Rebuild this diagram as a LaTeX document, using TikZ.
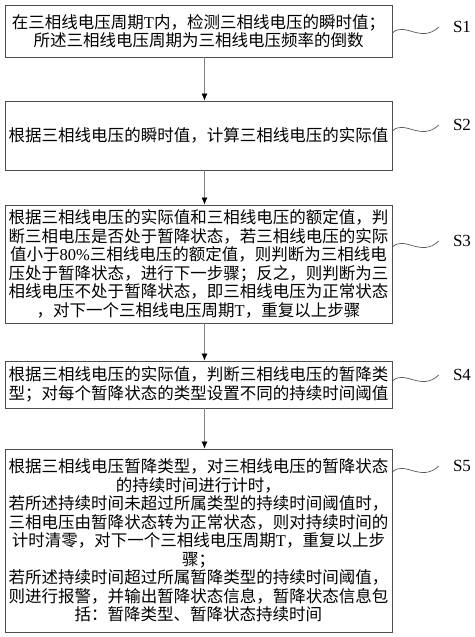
\documentclass[tikz,border=0pt]{standalone}
\usepackage{fontspec}
\setmainfont{Liberation Serif}
\newfontfamily\cjk{Noto Sans CJK SC}
\usepackage{tikz}
\usetikzlibrary{positioning,arrows.meta,calc}

\newcommand\lat[1]{{\rmfamily #1}}

\begin{document}
\begin{tikzpicture}[
    x=1pt, y=1pt,
    stepbox/.style={draw=black!70, line width=0.8pt, minimum width=387pt, inner sep=2pt,
                    align=center, font=\cjk\fontsize{16.5}{18.5}\selectfont},
    lbl/.style={inner sep=0pt, font=\fontsize{17}{19}\selectfont},
    flow/.style={draw=black!50, line width=0.7pt, -{Latex[black,length=7pt,width=6pt]}},
    wave/.style={draw=black!65, line width=0.7pt},
  ]
    \useasboundingbox (0,0) rectangle (474,637);

    \node[stepbox, minimum height=52pt] (s1) at (198.5,606)
      {在三相线电压周期\lat{T}内，检测三相线电压的瞬时值；\\所述三相线电压周期为三相线电压频率的倒数};
    \node[stepbox, minimum height=69pt] (s2) at (198.5,501.5)
      {根据三相线电压的瞬时值，计算三相线电压的实际值};
    \node[stepbox, minimum height=118pt] (s3) at (198.5,373)
      {根据三相线电压的实际值和三相线电压的额定值，判\\
       断三相电压是否处于暂降状态，若三相线电压的实际\\
       值小于\lat{80\%}三相线电压的额定值，则判断为三相线电\\
       压处于暂降状态，进行下一步骤；反之，则判断为三\\
       相线电压不处于暂降状态，即三相线电压为正常状态\\
       ，对下一个三相线电压周期\lat{T}，重复以上步骤};
    \node[stepbox, minimum height=47pt] (s4) at (198.5,252.5)
      {根据三相线电压的实际值，判断三相线电压的暂降类\\
       型；对每个暂降状态的类型设置不同的持续时间阈值};
    \node[stepbox, minimum height=183pt] (s5) at (198.5,96.5)
      {根据三相线电压暂降类型，对三相线电压的暂降状态\\
       的持续时间进行计时，\\
       若所述持续时间未超过所属类型的持续时间阈值时，\\
       三相电压由暂降状态转为正常状态，则对持续时间的\\
       计时清零，对下一个三相线电压周期\lat{T}，重复以上步\\
       骤；\\
       若所述持续时间超过所属暂降类型的持续时间阈值，\\
       则进行报警，并输出暂降状态信息，暂降状态信息包\\
       括：暂降类型、暂降状态持续时间};

    % step labels
    \node[lbl] (l1) at (462,610) {S1};
    \node[lbl] (l2) at (462,512) {S2};
    \node[lbl] (l3) at (462,396) {S3};
    \node[lbl] (l4) at (462,262) {S4};
    \node[lbl] (l5) at (462,171) {S5};

    \foreach \a/\b in {s1/s2, s2/s3, s3/s4, s4/s5}
      \draw[flow] ([xshift=6pt]\a.south) -- ([xshift=6pt]\b.north);

    \foreach \i in {1,...,5}
      \draw[wave] ($(s\i.east |- l\i.center)+(0,-6)$)
        .. controls +(12,12) and +(-18,-17) .. ([xshift=-14pt]l\i.west);
\end{tikzpicture}
\end{document}
